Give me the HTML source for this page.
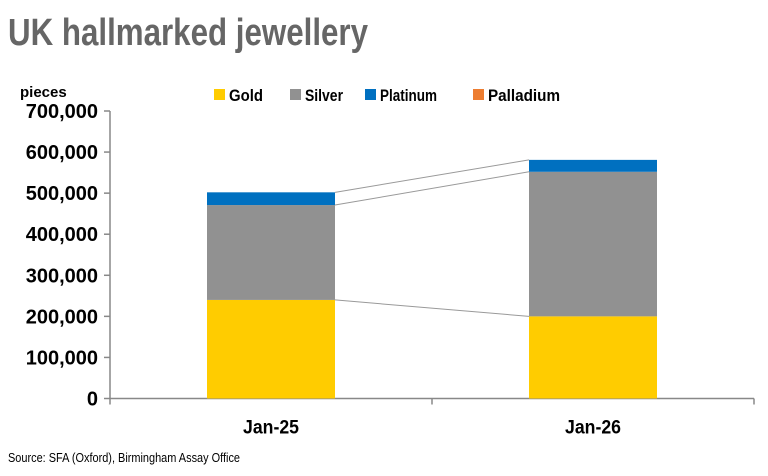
<!DOCTYPE html>
<html><head><meta charset="utf-8"><style>
body{margin:0;background:#fff;width:768px;height:471px;overflow:hidden;font-family:"Liberation Sans",sans-serif}
svg text{font-family:"Liberation Sans",sans-serif}
</style></head><body>
<svg id="c" width="768" height="471">
<text x="8" y="45" font-size="38" font-weight="bold" fill="#666" textLength="360" lengthAdjust="spacingAndGlyphs">UK hallmarked jewellery</text>
<text x="20" y="97" font-size="15" font-weight="bold">pieces</text>
<text x="8" y="462" font-size="13" fill="#000" textLength="232" lengthAdjust="spacingAndGlyphs">Source: SFA (Oxford), Birmingham Assay Office</text>
<g id="legend"></g>
<g id="plot"></g>
</svg>
<script>
const categories=["Jan-25","Jan-26"];
const gold=[240000,200000];
const silver=[231000,352000];
const platinum=[31000,29000];
const palladium=[0,0];
const yTicks=[0,100000,200000,300000,400000,500000,600000,700000];
const seriesNames=["Gold","Silver","Platinum","Palladium"];
const colors=["#ffcc00","#919191","#0070c0","#ed7d31"];
const NS="http://www.w3.org/2000/svg";
const X0=110,X1=754,Y0=398.5,Y1=111,YMAX=700000;
const y=v=>Y0-(v/YMAX)*(Y0-Y1);
const band=(X1-X0)/categories.length;
const xc=i=>X0+band*(i+0.5);
const BW=128;
const plot=document.getElementById('plot');
function mk(t,a,p){const e=document.createElementNS(NS,t);for(const k in a)e.setAttribute(k,a[k]);(p||plot).appendChild(e);return e;}
const ya=mk('line',{x1:X0,y1:Y1,x2:X0,y2:Y0,stroke:'#888','stroke-width':1.5});


yTicks.forEach(t=>{
 mk('line',{x1:X0-6,x2:X0,y1:y(t),y2:y(t),stroke:'#888','stroke-width':1.5});
 const tx=mk('text',{x:X0-12,y:y(t)+7,'text-anchor':'end','font-size':20,'font-weight':'bold'});
 tx.textContent=t.toLocaleString('en-US');
 
 
});
const xa=mk('line',{x1:X0,y1:Y0,x2:X1,y2:Y0,stroke:'#888','stroke-width':1.5});


for(let i=0;i<=categories.length;i++)mk('line',{x1:X0+band*i,x2:X0+band*i,y1:Y0,y2:Y0+6,stroke:'#888','stroke-width':1.5});
const series=[gold,silver,platinum,palladium];
const tops=categories.map(()=>[]);
categories.forEach((c,i)=>{
 let cum=0;
 series.forEach((s,k)=>{
  const v=s[i];const r=mk('rect',{x:xc(i)-BW/2,y:y(cum+v),width:BW,height:Math.max(0,y(cum)-y(cum+v)),fill:colors[k]});
  
  
  cum+=v;tops[i].push(cum);
 });
 const t=mk('text',{x:xc(i),y:Y0+35,'text-anchor':'middle','font-size':19,'font-weight':'bold',textLength:56,lengthAdjust:'spacingAndGlyphs'});
 t.textContent=c;
 
 
});
for(let i=0;i<categories.length-1;i++){
 [0,1,2].forEach(k=>{
  const l=mk('line',{x1:xc(i)+BW/2,y1:y(tops[i][k]),x2:xc(i+1)-BW/2,y2:y(tops[i+1][k]),stroke:'#999','stroke-width':1});
  
  
 });
}
const lg=document.getElementById('legend');
const lx=[214,290,365,473];
const lw=[34,38,57,72];
seriesNames.forEach((n,k)=>{
 const g=mk('g',{},lg);
 
 
 mk('rect',{x:lx[k],y:89,width:11,height:11,fill:colors[k]},g);
 const t=mk('text',{x:lx[k]+15,y:101,'font-size':17,'font-weight':'bold',textLength:lw[k],lengthAdjust:'spacingAndGlyphs'},g);
 t.textContent=n;
});
</script>
</body></html>
